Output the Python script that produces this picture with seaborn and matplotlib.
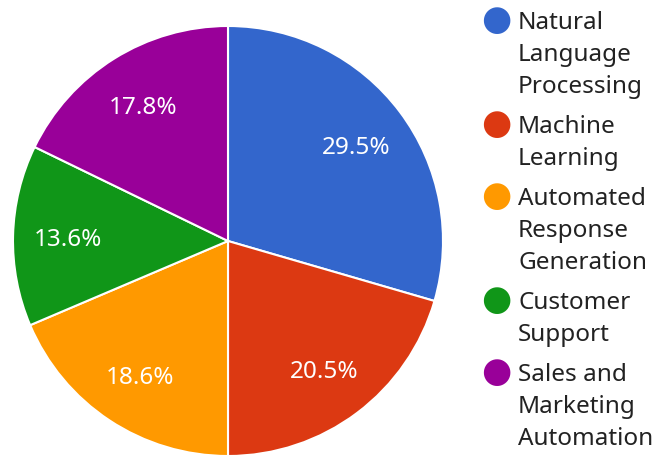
import matplotlib
matplotlib.use("Agg")
import matplotlib.pyplot as plt
import seaborn as sns

# data
categories = [
    "Natural\nLanguage\nProcessing",
    "Machine\nLearning",
    "Automated\nResponse\nGeneration",
    "Customer\nSupport",
    "Sales and\nMarketing\nAutomation",
]
shares = [29.5, 20.5, 18.6, 13.6, 17.8]
colors = ["#3366CC", "#DC3912", "#FF9900", "#109618", "#990099"]

sns.set_style("white")
plt.rcParams["font.family"] = ["Noto Sans", "DejaVu Sans"]

W, H = 654, 455
fig = plt.figure(figsize=(W / 100, H / 100), dpi=100)

# pie: centre (228, 241) px from top-left, radius 215 px
cx, cy, r = 228, 241, 215
ax = fig.add_axes([(cx - r) / W, (H - cy - r) / H, 2 * r / W, 2 * r / H])
wedges, texts, autotexts = ax.pie(
    shares,
    colors=colors,
    startangle=90,
    counterclock=False,
    autopct="%.1f%%",
    pctdistance=0.745,
    wedgeprops=dict(edgecolor="white", linewidth=1.5),
    textprops=dict(color="white", fontsize=17.5),
)
for t in autotexts:
    t.set_va("center_baseline")
ax.set_xlim(-1, 1)
ax.set_ylim(-1, 1)
ax.set_aspect("equal")
ax.axis("off")

# legend drawn by hand so the marker sits on the first text line
line_h = 32
entry_gap = 8
y = 20
for label, color in zip(categories, colors):
    fig.text(
        496 / W, 1 - y / H, "\u25cf", color=color, fontsize=25,
        ha="center", va="center", family="DejaVu Sans",
    )
    for k, part in enumerate(label.split("\n")):
        fig.text(
            518 / W, 1 - (y + k * line_h) / H, part, color="#222222",
            fontsize=17.5, ha="left", va="center_baseline",
        )
    y += len(label.split("\n")) * line_h + entry_gap

fig.savefig("out.png", dpi=100)
